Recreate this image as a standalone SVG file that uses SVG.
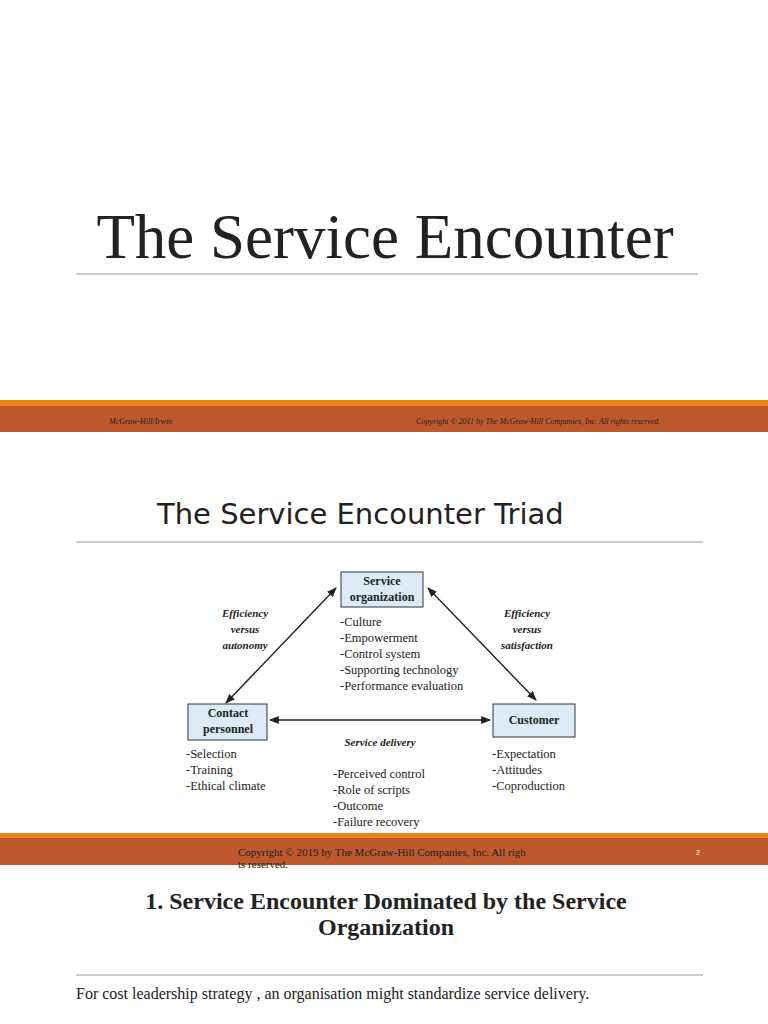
<svg xmlns="http://www.w3.org/2000/svg" width="768" height="1024" viewBox="0 0 768 1024">
<style>
.box{fill:#dcebf7;stroke:#333;stroke-width:1}
.bt{font-family:"Liberation Serif",serif;font-size:12px;font-weight:bold;fill:#222;text-anchor:middle}
.it{font-family:"Liberation Serif",serif;font-size:11px;font-weight:bold;font-style:italic;fill:#222;text-anchor:middle}
.li{font-family:"Liberation Serif",serif;font-size:12.5px;fill:#222}
.ln{stroke:#222;stroke-width:1.4;fill:none;marker-start:url(#a);marker-end:url(#a)}
.stripe{fill:#e8861a}.band{fill:#bd592d}
</style>
<defs><marker id="a" viewBox="0 0 10 10" refX="9" refY="5" markerWidth="7" markerHeight="7" orient="auto-start-reverse"><path d="M0,1 L10,5 L0,9 z" fill="#222"/></marker></defs>
<rect width="768" height="1024" fill="#fff"/>
<text x="385" y="258" font-family="Liberation Serif,serif" font-size="63" fill="#222" text-anchor="middle">The Service Encounter</text>
<line x1="76" y1="274" x2="698" y2="274" stroke="#999" stroke-width="1"/>
<rect class="stripe" x="0" y="400" width="768" height="6"/><rect class="band" x="0" y="406" width="768" height="26"/>
<text x="109" y="424" font-family="Liberation Serif,serif" font-size="8" font-style="italic" fill="#222">McGraw-Hill/Irwin</text>
<text x="416" y="424" font-family="Liberation Serif,serif" font-size="8" font-style="italic" fill="#222">Copyright © 2011 by The McGraw-Hill Companies, Inc. All rights reserved.</text>
<text x="157" y="524" font-family="DejaVu Sans,sans-serif" font-size="29" fill="#222">The Service Encounter Triad</text>
<line x1="76" y1="542" x2="703" y2="542" stroke="#999" stroke-width="1"/>
<g id="connectors">
<line class="ln" x1="336" y1="588" x2="226" y2="703"/>
<line class="ln" x1="428" y1="588" x2="536" y2="700"/>
<line class="ln" x1="270" y1="720" x2="490" y2="720"/>
</g>
<g id="org"><rect class="box" x="341" y="572" width="82" height="35"/><text class="bt" x="382" y="585">Service</text><text class="bt" x="382" y="601">organization</text></g>
<g id="contact"><rect class="box" x="188" y="704" width="79" height="36"/><text class="bt" x="228" y="717">Contact</text><text class="bt" x="228" y="733">personnel</text></g>
<g id="customer"><rect class="box" x="493" y="704" width="82" height="33"/><text class="bt" x="534" y="724">Customer</text></g>
<g id="labels">
<text class="it" x="245" y="617">Efficiency</text><text class="it" x="245" y="633">versus</text><text class="it" x="245" y="649">autonomy</text>
<text class="it" x="527" y="617">Efficiency</text><text class="it" x="527" y="633">versus</text><text class="it" x="527" y="649">satisfaction</text>
<text class="it" x="380" y="746">Service delivery</text>
<text class="li" x="340" y="626">-Culture</text><text class="li" x="340" y="642">-Empowerment</text><text class="li" x="340" y="658">-Control system</text><text class="li" x="340" y="674">-Supporting technology</text><text class="li" x="340" y="690">-Performance evaluation</text>
<text class="li" x="186" y="758">-Selection</text><text class="li" x="186" y="774">-Training</text><text class="li" x="186" y="790">-Ethical climate</text>
<text class="li" x="492" y="758">-Expectation</text><text class="li" x="492" y="774">-Attitudes</text><text class="li" x="492" y="790">-Coproduction</text>
<text class="li" x="333" y="778">-Perceived control</text><text class="li" x="333" y="794">-Role of scripts</text><text class="li" x="333" y="810">-Outcome</text><text class="li" x="333" y="826">-Failure recovery</text>
</g>
<rect class="stripe" x="0" y="833" width="768" height="5"/><rect class="band" x="0" y="838" width="768" height="27"/>
<text x="238" y="856" font-family="Liberation Serif,serif" font-size="11" fill="#222">Copyright © 2019 by The McGraw-Hill Companies, Inc. All righ</text>
<text x="238" y="868" font-family="Liberation Serif,serif" font-size="11" fill="#222">ts reserved.</text>
<text x="696" y="855" font-family="Liberation Sans,sans-serif" font-size="7" fill="#fff">2</text>
<text x="386" y="909" font-family="Liberation Serif,serif" font-size="24" font-weight="bold" fill="#222" text-anchor="middle">1. Service Encounter Dominated by the Service</text>
<text x="386" y="935" font-family="Liberation Serif,serif" font-size="24" font-weight="bold" fill="#222" text-anchor="middle">Organization</text>
<line x1="76" y1="975" x2="703" y2="975" stroke="#999" stroke-width="1"/>
<text x="76" y="999" font-family="Liberation Serif,serif" font-size="16" fill="#222">For cost leadership strategy , an organisation might standardize service delivery.</text>
</svg>
